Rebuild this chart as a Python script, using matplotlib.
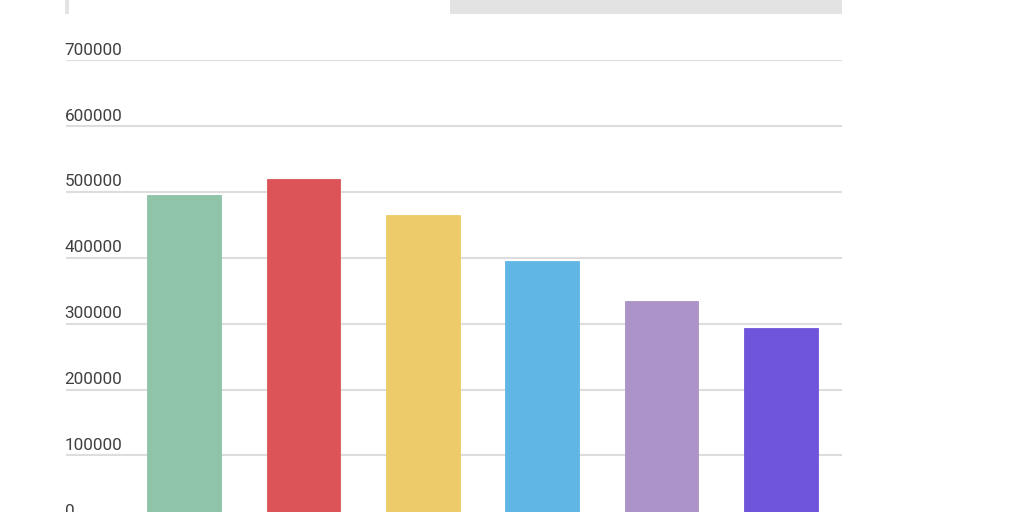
import matplotlib
matplotlib.use("Agg")
import matplotlib.pyplot as plt
from matplotlib.patches import Rectangle

categories = ["A", "B", "C", "D", "E", "F"]
values = [496000, 520000, 465000, 396000, 335000, 294000]
colors = ["#8fc4a8", "#dc5457", "#eecb6a", "#60b7e5", "#ac93c8", "#6f55dc"]
yticks = [0, 100000, 200000, 300000, 400000, 500000, 600000, 700000]
ytick_labels = [str(v) for v in yticks]

W, H = 1024, 512
fig = plt.figure(figsize=(W / 100, H / 100), dpi=100)
fig.patch.set_facecolor("white")

# axes in pixel coords: x 66..842, y zero at 521.3 px from top, 700000 at 60.3
x0, x1 = 66, 842
y_zero = 521.3
y_top = 60.3
ax = fig.add_axes([x0 / W, (H - y_zero) / H, (x1 - x0) / W, (y_zero - y_top) / H])
ax.set_facecolor("none")

xs = list(range(len(categories)))
ax.bar(xs, values, width=0.615, color=colors, edgecolor=colors, linewidth=0.6,
       zorder=3, label=None)
spacing = 119.4
ax.set_xlim((x0 - 184) / spacing, (x1 - 184) / spacing)
ax.set_ylim(0, 700000)

for s in ax.spines.values():
    s.set_visible(False)
# category labels fall below the visible (cropped) area of the reference
ax.set_xticks(xs)
ax.set_xticklabels([])
ax.set_yticks(yticks)
ax.set_yticklabels([])
ax.tick_params(length=0)
ax.grid(axis="y", color="#dddddd", linewidth=1.5, zorder=0)
ax.grid(axis="x", visible=False)

for v, lab in zip(yticks, ytick_labels):
    ax.annotate(lab, xy=(0, v), xycoords=("axes fraction", "data"),
                xytext=(-1, 4), textcoords="offset points",
                ha="left", va="baseline", fontsize=12.3, color="#404040",
                family="Roboto", annotation_clip=False)

# cropped header elements at top
fig.patches.append(Rectangle((450 / W, (H - 14) / H), (842 - 450) / W, 14 / H,
                             transform=fig.transFigure, facecolor="#e3e3e3",
                             edgecolor="none", zorder=0))
fig.patches.append(Rectangle((65 / W, (H - 14) / H), 4 / W, 14 / H,
                             transform=fig.transFigure, facecolor="#e3e3e3",
                             edgecolor="none", zorder=0))

fig.savefig("out.png", dpi=100, facecolor="white")
